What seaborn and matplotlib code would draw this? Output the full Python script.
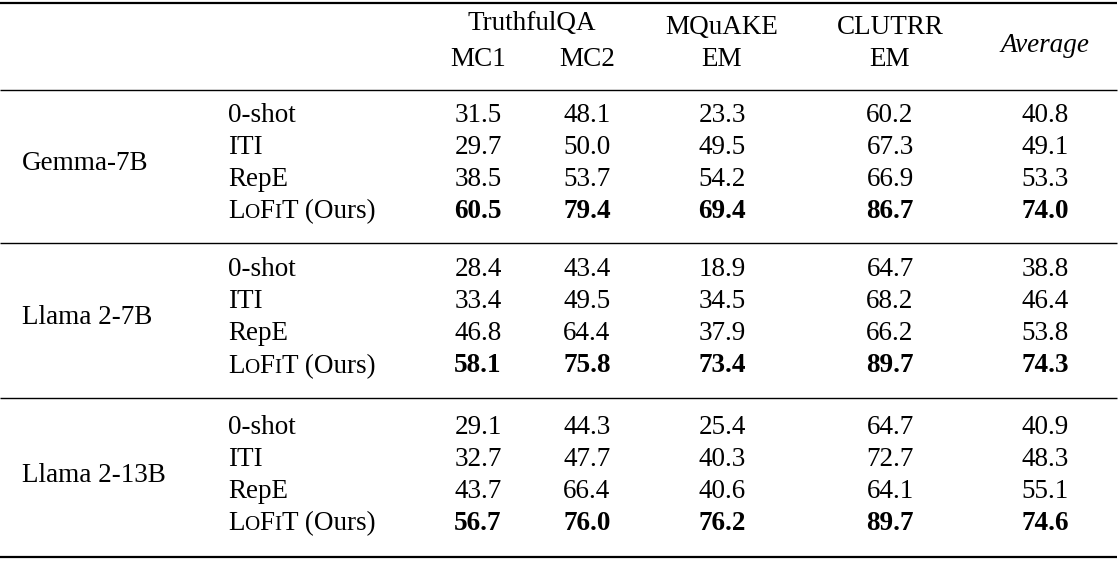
import matplotlib
matplotlib.use("Agg")
import matplotlib.pyplot as plt
import seaborn as sns

sns.set_theme(style="white")
plt.rcParams['font.family'] = ['Liberation Serif', 'DejaVu Serif']
plt.rcParams['text.color'] = 'black'

models = ["Gemma-7B", "Llama 2-7B", "Llama 2-13B"]
methods = ["0-shot", "ITI", "RepE", "LOFIT"]
values = {
    "Gemma-7B": [[31.5, 48.1, 23.3, 60.2, 40.8],
                 [29.7, 50.0, 49.5, 67.3, 49.1],
                 [38.5, 53.7, 54.2, 66.9, 53.3],
                 [60.5, 79.4, 69.4, 86.7, 74.0]],
    "Llama 2-7B": [[28.4, 43.4, 18.9, 64.7, 38.8],
                   [33.4, 49.5, 34.5, 68.2, 46.4],
                   [46.8, 64.4, 37.9, 66.2, 53.8],
                   [58.1, 75.8, 73.4, 89.7, 74.3]],
    "Llama 2-13B": [[29.1, 44.3, 25.4, 64.7, 40.9],
                    [32.7, 47.7, 40.3, 72.7, 48.3],
                    [43.7, 66.4, 40.6, 64.1, 55.1],
                    [56.7, 76.0, 76.2, 89.7, 74.6]],
}
col_x = [478, 587, 722, 890, 1045]

fig = plt.figure(figsize=(11.2, 5.62), dpi=100)
ax = fig.add_axes([0, 0, 1, 1])
ax.set_xlim(0, 1120)
ax.set_ylim(562, 0)
ax.axis("off")
FS = 19.5

def hl(y, lw):
    ax.plot([0, 1117], [y, y], color="black", lw=lw, solid_capstyle="butt")

hl(3, 1.6); hl(90, 1.0); hl(243, 1.0); hl(398, 1.0); hl(557, 1.6)

ax.text(532, 24, "TruthfulQA", ha="center", va="center", fontsize=FS)
ax.text(col_x[0], 60, "MC1", ha="center", va="center", fontsize=FS)
ax.text(col_x[1], 60, "MC2", ha="center", va="center", fontsize=FS)
ax.text(col_x[2], 28, "MQuAKE", ha="center", va="center", fontsize=FS)
ax.text(col_x[2], 60, "EM", ha="center", va="center", fontsize=FS)
ax.text(col_x[3], 28, "CLUTRR", ha="center", va="center", fontsize=FS)
ax.text(col_x[3], 60, "EM", ha="center", va="center", fontsize=FS)
ax.text(col_x[4], 45, "Average", ha="center", va="center", fontsize=FS, style="italic")

fig.canvas.draw()
renderer = fig.canvas.get_renderer()

def smallcaps(x, y):
    parts = [("L", FS), ("O", FS * 0.78), ("F", FS), ("I", FS * 0.78), ("T", FS), (" (Ours)", FS)]
    cx = x
    inv = ax.transData.inverted()
    for s, fs in parts:
        t = ax.text(cx, y, s, ha="left", va="baseline", fontsize=fs)
        bb = t.get_window_extent(renderer)
        cx = inv.transform((bb.x1, bb.y0))[0]

row_y0 = [115, 270, 427]
for mi, m in enumerate(models):
    ys = [row_y0[mi] + 32 * k for k in range(4)]
    ax.text(22, (ys[1] + ys[2]) / 2, m, ha="left", va="center", fontsize=FS)
    for k, meth in enumerate(methods):
        y = ys[k]
        if meth == "LOFIT":
            smallcaps(228, y + 7)
        else:
            ax.text(228, y, meth, ha="left", va="center", fontsize=FS)
        for j, v in enumerate(values[m][k]):
            ax.text(col_x[j], y, f"{v:.1f}", ha="center", va="center", fontsize=FS,
                    fontweight="bold" if k == 3 else "normal")

fig.savefig("out.png", dpi=100, facecolor="white")
